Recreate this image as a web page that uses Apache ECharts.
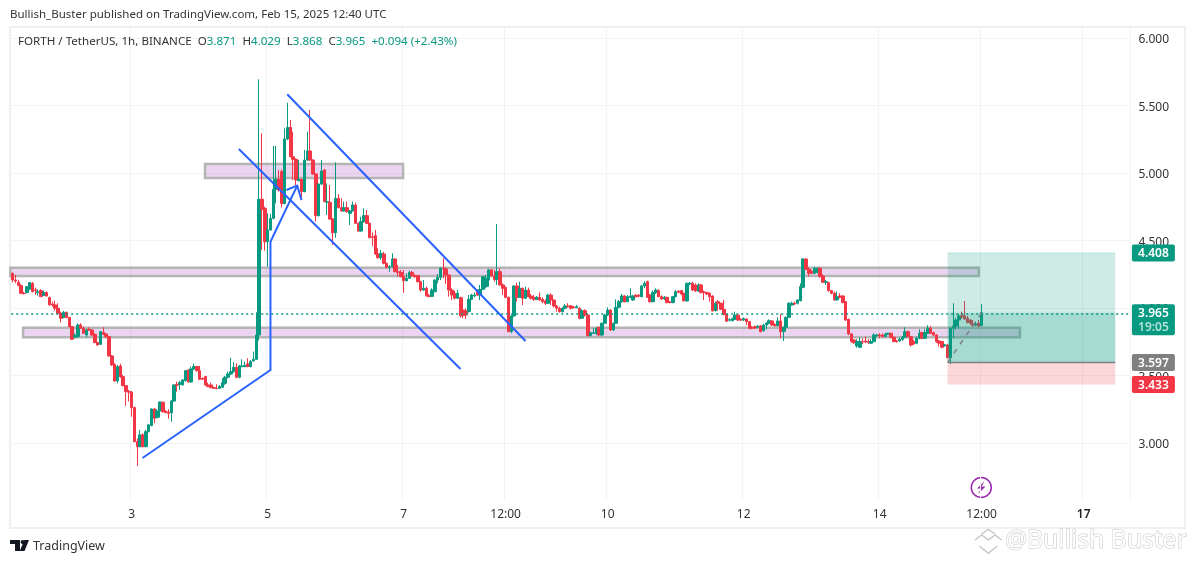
<!DOCTYPE html>
<html>
<head>
<meta charset="utf-8">
<title>FORTH / TetherUS</title>
<script src="https://cdn.jsdelivr.net/npm/echarts@6/dist/echarts.min.js"></script>
<style>
html, body { margin: 0; padding: 0; background: #fff; }
#chart { width: 1195px; height: 563px; }
</style>
</head>
<body>
<div id="chart"></div>
<script>
var FONT = '"Noto Sans", sans-serif';
var UP = '#089981';
var DOWN = '#f23645';

// hourly bars, [open, close, low, high]. bar 42 is Feb 3 00:00
var candles = [
[4.257,4.208,4.19,4.262],[4.208,4.2,4.183,4.245],[4.19,4.166,4.163,4.208],[4.166,4.109,4.104,4.176],
[4.109,4.107,4.1,4.12],[4.114,4.158,4.109,4.163],[4.139,4.188,4.134,4.193],[4.183,4.121,4.116,4.193],
[4.134,4.129,4.097,4.151],[4.114,4.121,4.092,4.139],[4.129,4.084,4.082,4.139],[4.094,4.114,4.089,4.129],
[4.114,4.089,4.084,4.124],[4.077,4.023,4.018,4.084],[4.028,4.023,4.01,4.047],[4.023,3.998,3.981,4.055],
[3.998,3.961,3.949,4.035],[3.961,3.924,3.892,3.973],[3.929,3.968,3.924,3.978],[3.968,3.929,3.924,3.973],
[3.929,3.862,3.857,3.936],[3.862,3.768,3.763,3.867],[3.783,3.798,3.778,3.813],[3.788,3.874,3.781,3.887],
[3.874,3.85,3.845,3.887],[3.85,3.813,3.808,3.862],[3.8,3.837,3.783,3.847],[3.842,3.837,3.83,3.857],
[3.837,3.8,3.793,3.842],[3.805,3.744,3.739,3.813],[3.744,3.726,3.721,3.749],[3.731,3.825,3.726,3.83],
[3.82,3.805,3.8,3.857],[3.808,3.788,3.778,3.813],[3.788,3.645,3.64,3.793],[3.645,3.578,3.571,3.652],
[3.583,3.46,3.452,3.59],[3.46,3.566,3.442,3.578],[3.571,3.492,3.484,3.586],[3.492,3.425,3.42,3.504],
[3.425,3.381,3.274,3.43],[3.381,3.376,3.307,3.393],[3.376,3.262,3.195,3.386],[3.262,3.01,3.005,3.27],
[3.01,2.973,2.83,3.035],[2.973,3.06,2.968,3.097],[3.06,2.973,2.968,3.072],[2.973,3.084,2.968,3.097],
[3.084,3.134,3.079,3.141],[3.129,3.252,3.124,3.257],[3.252,3.183,3.146,3.257],[3.188,3.237,3.183,3.25],
[3.237,3.304,3.188,3.306],[3.302,3.232,3.225,3.306],[3.237,3.225,3.22,3.242],[3.23,3.22,3.18,3.25],
[3.225,3.311,3.158,3.319],[3.311,3.43,3.304,3.435],[3.435,3.428,3.38,3.455],[3.435,3.447,3.393,3.46],
[3.43,3.467,3.425,3.472],[3.462,3.536,3.455,3.541],[3.541,3.452,3.447,3.546],[3.452,3.549,3.447,3.566],
[3.549,3.566,3.541,3.59],[3.566,3.536,3.529,3.571],[3.536,3.472,3.467,3.571],[3.479,3.472,3.467,3.484],
[3.492,3.43,3.425,3.497],[3.43,3.418,3.413,3.447],[3.43,3.41,3.405,3.447],[3.41,3.405,3.4,3.418],
[3.405,3.403,3.398,3.435],[3.405,3.418,3.4,3.43],[3.413,3.447,3.408,3.479],[3.442,3.487,3.43,3.497],
[3.487,3.511,3.479,3.529],[3.511,3.529,3.504,3.632],[3.529,3.561,3.521,3.598],[3.561,3.487,3.479,3.59],
[3.487,3.571,3.479,3.578],[3.566,3.571,3.561,3.62],[3.566,3.573,3.561,3.603],[3.586,3.566,3.561,3.627],
[3.566,3.603,3.561,3.615],[3.608,3.62,3.603,3.677],[3.62,3.8,3.615,3.968],[3.8,4.805,3.76,5.694],
[4.805,4.731,4.43,5.294],[4.738,4.491,4.425,4.75],[4.491,4.578,4.306,4.701],[4.578,4.664,4.573,4.696],
[4.664,4.879,4.657,5.2],[4.879,4.953,4.775,5.2],[4.953,4.874,4.862,5.022],[5.01,4.775,4.746,5.027],
[4.775,5.252,4.768,5.331],[5.252,5.338,5.244,5.521],[5.338,5.121,5.116,5.393],[5.121,5.101,4.948,5.306],
[5.101,4.948,4.911,5.109],[4.943,4.953,4.938,5.096],[4.953,4.862,4.8,4.96],[4.862,5.096,4.857,5.17],
[5.096,5.163,5.091,5.306],[5.163,5.096,5.091,5.467],[5.096,4.993,4.985,5.101],[4.993,4.684,4.64,4.998],
[4.684,4.918,4.679,4.923],[4.918,5.015,4.911,5.096],[5.022,4.788,4.783,5.03],[4.783,4.788,4.689,4.923],
[4.783,4.659,4.652,4.911],[4.659,4.558,4.467,4.664],[4.558,4.812,4.521,5.079],[4.812,4.743,4.738,4.844],
[4.743,4.719,4.714,4.812],[4.719,4.743,4.714,4.788],[4.743,4.714,4.706,4.788],[4.701,4.719,4.615,4.726],
[4.719,4.763,4.714,4.788],[4.763,4.627,4.622,4.78],[4.627,4.57,4.565,4.632],[4.57,4.64,4.565,4.676],
[4.64,4.684,4.632,4.738],[4.684,4.627,4.622,4.726],[4.627,4.521,4.516,4.632],[4.528,4.523,4.459,4.56],
[4.536,4.4,4.393,4.578],[4.4,4.373,4.365,4.442],[4.373,4.405,4.356,4.43],[4.4,4.331,4.323,4.417],
[4.331,4.301,4.294,4.336],[4.301,4.306,4.269,4.318],[4.306,4.363,4.301,4.405],[4.363,4.269,4.264,4.368],
[4.269,4.264,4.232,4.318],[4.264,4.232,4.227,4.281],[4.232,4.202,4.113,4.281],[4.202,4.22,4.197,4.257],
[4.22,4.264,4.215,4.277],[4.264,4.24,4.232,4.274],[4.24,4.232,4.225,4.249],[4.24,4.195,4.188,4.244],
[4.195,4.133,4.121,4.202],[4.133,4.146,4.128,4.207],[4.146,4.091,4.084,4.158],[4.091,4.086,4.079,4.104],
[4.086,4.133,4.081,4.146],[4.121,4.207,4.116,4.212],[4.207,4.227,4.183,4.252],[4.227,4.294,4.207,4.301],
[4.294,4.289,4.22,4.368],[4.289,4.244,4.178,4.301],[4.244,4.133,4.084,4.249],[4.133,4.096,4.059,4.146],
[4.109,4.072,4.064,4.128],[4.072,4.109,4.067,4.133],[4.077,3.943,3.93,4.084],[3.985,3.943,3.924,4.079],
[3.98,3.948,3.919,3.998],[3.973,4.064,3.968,4.096],[4.064,4.096,4.059,4.104],[4.089,4.096,4.079,4.114],
[4.129,4.096,4.089,4.138],[4.096,4.138,4.059,4.171],[4.138,4.232,4.133,4.237],[4.158,4.22,4.146,4.245],
[4.208,4.282,4.158,4.289],[4.282,4.237,4.232,4.289],[4.237,4.212,4.195,4.282],[4.212,4.269,4.171,4.622],
[4.269,4.171,4.166,4.294],[4.171,4.146,4.096,4.183],[4.153,4.079,4.072,4.158],[4.079,3.825,3.82,4.084],
[3.825,3.941,3.813,3.948],[3.941,4.163,3.936,4.168],[4.163,4.079,4.047,4.188],[4.079,4.146,4.074,4.195],
[4.146,4.072,4.022,4.151],[4.072,4.133,4.067,4.158],[4.133,4.084,4.079,4.151],[4.089,4.072,4.064,4.104],
[4.079,4.064,4.052,4.096],[4.064,4.079,4.059,4.089],[4.079,4.059,4.054,4.114],[4.064,4.047,4.035,4.079],
[4.052,4.035,4.022,4.064],[4.035,4.096,4.03,4.104],[4.096,4.059,4.022,4.109],[4.059,4.015,4.005,4.064],
[4.015,3.998,3.973,4.022],[3.998,3.973,3.966,4.01],[3.973,3.998,3.966,4.005],[3.998,4.015,3.99,4.03],
[4.015,4.01,4.003,4.035],[4.015,3.998,3.99,4.022],[4.005,4.002,3.998,4.015],[4.002,4.01,3.998,4.022],
[3.998,3.924,3.916,4.005],[3.924,3.98,3.919,3.99],[3.98,3.948,3.936,3.99],[3.948,3.795,3.79,3.953],
[3.795,3.817,3.79,3.825],[3.812,3.817,3.808,3.85],[3.812,3.85,3.8,3.857],[3.857,3.8,3.79,3.862],
[3.8,3.887,3.79,3.892],[3.887,3.948,3.882,3.956],[3.948,3.985,3.941,4.005],[3.985,3.837,3.83,3.99],
[3.837,3.887,3.83,3.892],[3.887,4.005,3.882,4.064],[4.005,4.047,3.998,4.059],[4.047,4.089,4.04,4.104],
[4.089,4.047,4.04,4.096],[4.047,4.084,4.042,4.096],[4.079,4.089,4.072,4.146],[4.059,4.089,4.052,4.096],
[4.094,4.084,4.079,4.104],[4.094,4.089,4.079,4.104],[4.084,4.163,4.079,4.171],[4.163,4.183,4.146,4.2],
[4.195,4.079,4.074,4.203],[4.096,4.047,4.04,4.104],[4.047,4.114,4.042,4.129],[4.114,4.133,4.104,4.146],
[4.129,4.084,4.079,4.138],[4.084,4.067,4.059,4.094],[4.067,4.079,4.059,4.089],[4.079,4.04,4.035,4.084],
[4.045,4.04,4.035,4.052],[4.04,4.084,4.035,4.089],[4.084,4.121,4.079,4.133],[4.124,4.116,4.109,4.133],
[4.129,4.104,4.096,4.133],[4.109,4.054,4.047,4.114],[4.052,4.183,4.047,4.188],[4.178,4.183,4.171,4.193],
[4.183,4.133,4.126,4.195],[4.171,4.126,4.119,4.183],[4.126,4.171,4.119,4.183],[4.171,4.114,4.109,4.178],
[4.119,4.114,4.059,4.129],[4.114,4.104,4.096,4.121],[4.109,4.084,4.047,4.114],[4.089,3.98,3.973,4.094],
[3.98,4.035,3.975,4.047],[4.047,4.035,3.98,4.059],[4.035,3.99,3.985,4.04],[3.99,3.952,3.945,4.06],
[3.952,3.902,3.896,3.96],[3.91,3.914,3.9,3.924],[3.906,3.921,3.9,3.929],[3.916,3.948,3.911,3.973],
[3.948,3.911,3.904,3.953],[3.916,3.911,3.904,3.924],[3.911,3.921,3.904,3.931],[3.919,3.899,3.874,3.924],
[3.899,3.85,3.842,3.904],[3.857,3.85,3.842,3.867],[3.862,3.852,3.845,3.869],[3.857,3.864,3.85,3.874],
[3.867,3.825,3.82,3.874],[3.832,3.874,3.827,3.882],[3.874,3.887,3.842,3.894],[3.887,3.906,3.879,3.916],
[3.904,3.874,3.867,3.911],[3.877,3.869,3.862,3.887],[3.869,3.904,3.864,3.931],[3.904,3.825,3.776,3.956],
[3.825,3.857,3.756,3.862],[3.857,3.931,3.825,3.936],[3.931,4.035,3.926,4.042],[4.022,4.035,4.017,4.047],
[4.035,4.03,4.022,4.047],[4.035,4.059,4.027,4.064],[4.054,4.158,4.049,4.183],[4.153,4.363,4.146,4.368],
[4.363,4.287,4.282,4.368],[4.287,4.257,4.232,4.302],[4.272,4.257,4.25,4.282],[4.257,4.294,4.25,4.306],
[4.262,4.294,4.257,4.302],[4.294,4.232,4.227,4.302],[4.237,4.19,4.185,4.25],[4.19,4.195,4.171,4.208],
[4.188,4.129,4.121,4.195],[4.129,4.109,4.101,4.134],[4.109,4.06,4.054,4.121],[4.06,4.084,4.054,4.121],
[4.089,4.079,4.072,4.109],[4.089,4.04,4.035,4.096],[4.047,3.911,3.904,4.052],[3.916,3.808,3.8,3.921],
[3.808,3.751,3.743,3.813],[3.763,3.743,3.734,3.768],[3.719,3.751,3.706,3.768],[3.709,3.751,3.702,3.783],
[3.751,3.749,3.734,3.776],[3.756,3.748,3.739,3.788],[3.753,3.746,3.734,3.768],[3.739,3.751,3.734,3.768],
[3.751,3.8,3.746,3.813],[3.795,3.8,3.788,3.808],[3.8,3.795,3.776,3.813],[3.8,3.788,3.783,3.813],
[3.788,3.805,3.783,3.817],[3.805,3.813,3.8,3.817],[3.813,3.783,3.776,3.817],[3.783,3.751,3.746,3.788],
[3.756,3.751,3.743,3.763],[3.756,3.768,3.751,3.783],[3.768,3.783,3.756,3.793],[3.783,3.825,3.778,3.857],
[3.825,3.788,3.783,3.832],[3.788,3.726,3.714,3.793],[3.751,3.734,3.726,3.763],[3.739,3.776,3.731,3.788],
[3.776,3.813,3.768,3.842],[3.818,3.776,3.768,3.825],[3.776,3.818,3.771,3.842],[3.813,3.85,3.808,3.872],
[3.85,3.813,3.806,3.867],[3.818,3.8,3.793,3.825],[3.8,3.751,3.743,3.805],[3.756,3.739,3.714,3.763],
[3.751,3.709,3.702,3.756],[3.721,3.726,3.714,3.734],[3.726,3.632,3.627,3.734],[3.632,3.85,3.585,3.857],
[3.85,3.867,3.776,4.035],[3.867,3.911,3.842,3.924],[3.911,3.941,3.85,3.956],[3.943,3.936,3.919,3.973],
[3.941,3.919,3.911,4.052],[3.924,3.892,3.887,3.941],[3.911,3.887,3.874,3.916],[3.882,3.872,3.862,3.911],
[3.874,3.882,3.867,3.899],[3.887,3.867,3.857,3.911],[3.871,3.965,3.868,4.029]
];

var barSlots = 395;
var priceTicks = [3, 3.5, 4, 4.5, 5, 5.5, 6];
var tickBars = [42, 90, 138, 174, 210, 258, 306, 342, 378];
var tickLabels = ['3', '5', '7', '12:00', '10', '12', '14', '12:00', '17'];

// purple zones, [bar from, price top, bar to, price bottom]
var zones = [
    [67.9, 5.067, 137.8, 4.963],
    [-0.8, 4.299, 341, 4.237],
    [3.7, 3.854, 355.5, 3.783]
];
// blue drawings, each a list of [bar, price]
var trendLines = [
    [[45.85, 2.889], [91, 3.541], [91, 4.491], [100.45, 4.906]],
    [[96.67, 4.874], [100.45, 4.906], [101.96, 4.8]],
    [[79.83, 5.178], [158.08, 3.548]],
    [[96.92, 5.583], [181.02, 3.756]]
];
// long position box
var posFrom = 330, posTo = 389.15, lastBar = 342;
var target = 4.408, entry = 3.597, stop = 3.433, lastPrice = 3.965;
var badges = [
    [target, '4.408', '', UP],
    [lastPrice, '3.965', '19:05', UP],
    [entry, '3.597', '', '#808080'],
    [stop, '3.433', '', DOWN]
];
var ohlc = ['3.871', '4.029', '3.868', '3.965', '+0.094 (+2.43%)'];

var categories = [];
for (var i = 0; i < barSlots; i++) {
    var t = new Date(Date.UTC(2025, 1, 1, 6 + i));
    categories.push(t.toISOString().slice(5, 16));
}

function isTick(index) {
    return tickBars.indexOf(index) >= 0;
}

function rectBetween(api, k1, p1, k2, p2) {
    var a = api.coord([k1, p1]);
    var b = api.coord([k2, p2]);
    return { x: a[0], y: a[1], width: b[0] - a[0], height: b[1] - a[1] };
}

var chart = echarts.init(document.getElementById('chart'));

chart.setOption({
    animation: false,
    backgroundColor: '#fff',
    textStyle: { fontFamily: FONT },
    title: [
        {
            text: 'Bullish_Buster published on TradingView.com, Feb 15, 2025 12:40 UTC',
            left: 10, top: 9, padding: 0,
            textStyle: { fontFamily: FONT, fontSize: 11.5, fontWeight: 'normal', color: '#333' }
        },
        {
            text: '{n|FORTH / TetherUS, 1h, BINANCE}  {n|O}{v|' + ohlc[0] + '}  {n|H}{v|' + ohlc[1] + '}  {n|L}{v|' + ohlc[2] +
                '}  {n|C}{v|' + ohlc[3] + '}  {v|' + ohlc[4] + '}',
            left: 18, top: 36, padding: 0,
            textStyle: {
                fontFamily: FONT, fontSize: 11.6, fontWeight: 'normal',
                rich: {
                    n: { fontFamily: FONT, fontSize: 11.6, color: '#333' },
                    v: { fontFamily: FONT, fontSize: 11.6, color: UP }
                }
            }
        }
    ],
    grid: { left: 11.2, top: 27, width: 1119.2, height: 473 },
    xAxis: [
        {
            type: 'category',
            data: categories,
            boundaryGap: true,
            axisLine: { show: false },
            axisTick: { show: false },
            axisLabel: {
                interval: function (index) { return isTick(index); },
                formatter: function (value, index) {
                    var label = tickLabels[tickBars.indexOf(index)];
                    return label === '17' ? '{b|17}' : label;
                },
                margin: 9,
                fontFamily: FONT,
                fontSize: 12,
                color: '#333',
                rich: { b: { fontFamily: FONT, fontSize: 12, fontWeight: 600, color: '#222' } }
            },
            splitLine: {
                show: true,
                interval: function (index) { return isTick(index); },
                lineStyle: { color: '#f3f3f3', width: 1 }
            }
        },
        // same slots as the category axis, lets drawings sit between bars
        { type: 'value', min: -0.5, max: barSlots - 0.5, show: false, splitLine: { show: false } }
    ],
    yAxis: {
        type: 'value',
        position: 'right',
        min: 2.5778,
        max: 6.0815,
        axisLine: { show: false },
        axisTick: { show: false, customValues: priceTicks },
        axisLabel: {
            customValues: priceTicks,
            formatter: function (v) { return '{p|' + v.toFixed(3) + '}'; },
            margin: 8,
            rich: { p: { fontFamily: FONT, fontSize: 12, color: '#333', padding: [4, 0, 0, 0] } }
        },
        splitLine: { show: true, lineStyle: { color: '#f3f3f3', width: 1 } }
    },
    series: [
        {
            type: 'custom',
            name: 'zones',
            xAxisIndex: 1,
            z: 1,
            data: zones,
            renderItem: function (params, api) {
                return {
                    type: 'rect',
                    shape: rectBetween(api, api.value(0), api.value(1), api.value(2), api.value(3)),
                    style: { fill: 'rgba(156,39,176,0.2)', stroke: '#b4b4b4', lineWidth: 2.5 }
                };
            }
        },
        {
            type: 'candlestick',
            name: 'FORTHUSDT',
            z: 3,
            barWidth: 3,
            data: candles,
            itemStyle: { color: UP, color0: DOWN, borderColor: UP, borderColor0: DOWN, borderWidth: 1 },
            markLine: {
                silent: true,
                symbol: 'none',
                label: { show: false },
                lineStyle: { color: UP, type: [2, 3], width: 1.5 },
                data: [{ yAxis: lastPrice }]
            }
        },
        {
            type: 'custom',
            name: 'position',
            xAxisIndex: 1,
            z: 5,
            data: [[posFrom, target, posTo, stop]],
            renderItem: function (params, api) {
                var entryLeft = api.coord([posFrom, entry]);
                var entryRight = api.coord([posTo, entry]);
                var topLeft = api.coord([posFrom, target]);
                var last = api.coord([lastBar, lastPrice]);
                return {
                    type: 'group',
                    children: [
                        { type: 'rect', shape: rectBetween(api, posFrom, target, posTo, entry), style: { fill: 'rgba(8,153,129,0.2)' } },
                        { type: 'rect', shape: rectBetween(api, posFrom, lastPrice, posTo, entry), style: { fill: 'rgba(8,153,129,0.2)' } },
                        { type: 'rect', shape: rectBetween(api, posFrom, entry, posTo, stop), style: { fill: 'rgba(242,54,69,0.2)' } },
                        { type: 'line', shape: { x1: topLeft[0], y1: topLeft[1], x2: entryRight[0], y2: topLeft[1] }, style: { stroke: 'rgba(8,153,129,0.2)', lineWidth: 1 } },
                        { type: 'line', shape: { x1: entryLeft[0], y1: entryLeft[1], x2: entryRight[0], y2: entryRight[1] }, style: { stroke: '#808080', lineWidth: 1.5 } },
                        { type: 'line', shape: { x1: entryLeft[0], y1: entryLeft[1], x2: last[0], y2: last[1] }, style: { stroke: '#808080', lineWidth: 1.5, lineDash: [5, 6] } }
                    ]
                };
            }
        },
        {
            type: 'custom',
            name: 'trend lines',
            xAxisIndex: 1,
            z: 6,
            data: trendLines.map(function (l, i) { return [i]; }),
            renderItem: function (params, api) {
                var pts = trendLines[params.dataIndex].map(function (p) { return api.coord(p); });
                return {
                    type: 'polyline',
                    shape: { points: pts },
                    style: { stroke: '#2962ff', lineWidth: 2, fill: null }
                };
            }
        },
        {
            type: 'custom',
            name: 'price badges',
            xAxisIndex: 1,
            z: 8,
            clip: false,
            data: badges.map(function (b) { return [0, b[0]]; }),
            renderItem: function (params, api) {
                var b = badges[params.dataIndex];
                var y = api.coord([0, b[0]])[1];
                var left = params.coordSys.x + params.coordSys.width + 1.5;
                var children = [
                    { type: 'rect', shape: { x: left, y: y - 8.5, width: 43, height: b[2] ? 31 : 17, r: 2 }, style: { fill: b[3] } },
                    { type: 'text', style: { text: b[1], x: left + 21.5, y: y + 1, fill: '#fff', font: '600 12px ' + FONT, align: 'center', verticalAlign: 'middle' } }
                ];
                if (b[2]) {
                    children.push({ type: 'text', style: { text: b[2], x: left + 21.5, y: y + 15, fill: 'rgba(255,255,255,0.7)', font: '600 12px ' + FONT, align: 'center', verticalAlign: 'middle' } });
                }
                return { type: 'group', children: children };
            }
        }
    ],
    graphic: [
        { type: 'rect', silent: true, z: 0, shape: { x: 10, y: 27, width: 1175, height: 501 }, style: { fill: 'none', stroke: '#f0f0f0', lineWidth: 2 } },
        // flash icon on the time axis
        { type: 'circle', silent: true, shape: { cx: 981.3, cy: 487.5, r: 10 }, style: { fill: '#fff', stroke: '#9c27b0', lineWidth: 1.5 } },
        { type: 'polygon', silent: true, shape: { points: [[984.5, 481], [977, 488.5], [981, 488.5], [978, 494], [985.5, 486.5], [981.5, 486.5]] }, style: { fill: '#9c27b0' } },
        // TradingView mark
        { type: 'polygon', silent: true, shape: { points: [[10, 540], [20, 540], [20, 551], [15, 551], [15, 544], [10, 544]] }, style: { fill: '#131722' } },
        { type: 'circle', silent: true, shape: { cx: 22.6, cy: 542, r: 2 }, style: { fill: '#131722' } },
        { type: 'polygon', silent: true, shape: { points: [[29, 540], [24.5, 551], [19.8, 551], [24.3, 540]] }, style: { fill: '#131722' } },
        { type: 'text', silent: true, style: { text: 'TradingView', x: 33, y: 546, font: '12.5px ' + FONT, fill: '#333', verticalAlign: 'middle' } },
        // watermark
        { type: 'polyline', silent: true, shape: { points: [[975, 540], [981.7, 535], [988.3, 540], [995, 535], [1001.7, 540]] }, style: { stroke: '#c8c8c8', lineWidth: 1.5, fill: null } },
        { type: 'polyline', silent: true, shape: { points: [[981.7, 534], [988.3, 529.3], [995, 534]] }, style: { stroke: '#c8c8c8', lineWidth: 1.5, fill: null } },
        { type: 'polyline', silent: true, shape: { points: [[979.3, 546], [988.3, 553.3], [997.3, 546]] }, style: { stroke: '#c8c8c8', lineWidth: 1.5, fill: null } },
        { type: 'text', silent: true, style: { text: '@Bullish Buster', x: 1005, y: 541, font: '24.6px ' + FONT, fill: '#fff', stroke: '#c4c4c4', lineWidth: 1, verticalAlign: 'middle' } }
    ]
});
</script>
</body>
</html>
